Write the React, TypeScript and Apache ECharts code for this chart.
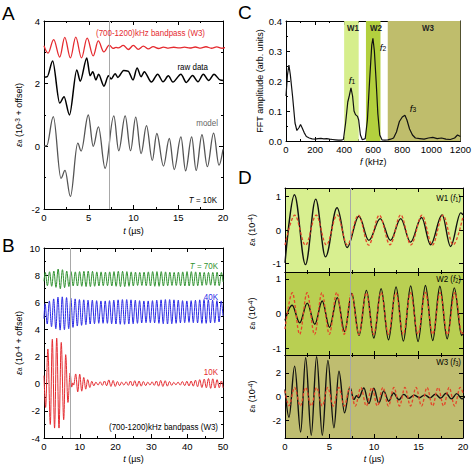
import React, { useEffect, useRef } from "react";
import * as echarts from "echarts";

const FONT = '"Liberation Sans", Arial, sans-serif';
const TICK_SIZE = 9.5;
const NAME_SIZE = 9;

type Pt = [number, number];

// ---------- Panel A: 10 K strain trace (units 1e-3, offset) ----------
const rawData: Pt[] = [
  [0, 2.2], [0.35, 2.22], [0.97, 2.72], [1.75, 1.38], [2.24, 1.58], [2.85, 1.0],
  [3.66, 2.44], [4.05, 2.08], [4.78, 2.82], [5.15, 2.25], [5.45, 2.38], [5.8, 2.12],
  [6.1, 2.3], [6.7, 1.92], [7.2, 2.25], [7.5, 2.15], [7.95, 2.32], [8.25, 2.2],
  [8.9, 2.42], [9.4, 2.4], [9.95, 2.12], [10.4, 2.5], [10.85, 2.22], [11.2, 2.38],
  [12.0, 2.05], [12.7, 2.3], [13.3, 2.06], [13.9, 2.25], [14.4, 2.05], [15.3, 2.3],
  [15.9, 2.04], [16.6, 2.26], [17.2, 2.06], [17.8, 2.3], [18.4, 2.1], [19.0, 2.3],
  [19.7, 2.12], [20, 2.1],
];
const modelFit: Pt[] = [
  [0, 0], [0.3, 0.02], [1.04, 0.95], [1.9, -1.02], [2.35, -0.77], [2.95, -1.6],
  [3.77, 0.1], [4.15, -0.15], [4.95, 1.0], [5.5, 0.0], [6.08, 0.62], [6.83, -0.7],
  [7.8, 0.97], [8.35, -0.14], [9.07, 0.97], [9.67, -0.14], [10.25, 0.93], [10.85, -0.23],
  [11.45, 0.66], [12.1, -0.45], [12.6, 0.41], [13.35, -0.63], [14.0, 0.25], [14.55, -0.74],
  [15.3, 0.3], [15.82, -0.78], [16.5, 0.3], [17.0, -0.77], [17.65, 0.37], [18.25, -0.65],
  [18.95, 0.42], [19.55, -0.6], [20, -0.1],
];
const bandOffsetA = 3.15;

// ---------- (700-1200) kHz bandpass, W3 (units 1e-4) ----------
const w3Band10K: Pt[] = [
  [0, 0.6], [0.45, -1.75], [1.08, 2.56], [1.76, -3.0], [2.32, 3.27], [2.95, -3.27],
  [3.55, 3.35], [4.19, -3.27], [4.82, 3.04], [5.5, -2.65], [6.06, 2.14], [6.69, -1.38],
  [7.29, 0.79], [7.74, -0.25], [8.04, 0.06], [8.3, -0.1], [8.86, 0.72], [9.42, -0.6],
  [9.98, 0.7], [10.54, -0.55], [11.1, 0.46], [11.66, -0.4], [12.2, 0.3], [12.8, -0.28],
  [13.35, 0.18], [13.9, -0.16], [14.5, 0.12], [15.1, -0.1], [15.7, 0.14], [16.3, -0.12],
  [16.9, 0.2], [17.5, -0.15], [18.1, 0.28], [18.7, -0.2], [19.3, 0.24], [19.9, -0.2],
  [20.5, 0.16], [21.1, -0.14], [21.7, 0.12], [22.3, -0.1], [22.95, 0.14], [23.55, -0.12],
  [24.15, 0.2], [24.75, -0.16], [25.35, 0.22], [25.95, -0.2], [26.55, 0.2], [27.15, -0.18],
  [27.75, 0.16], [28.4, -0.14], [29.0, 0.12], [29.6, -0.1], [30.2, 0.14], [30.8, -0.12],
  [31.4, 0.2], [32.0, -0.18], [32.6, 0.24], [33.2, -0.2], [33.85, 0.22], [34.45, -0.18],
  [35.05, 0.16], [35.65, -0.12], [36.25, 0.1], [36.85, -0.08], [37.45, 0.12], [38.05, -0.1],
  [38.65, 0.16], [39.3, -0.14], [39.9, 0.18], [40.5, -0.16], [41.1, 0.2], [41.7, -0.18],
  [42.3, 0.26], [42.9, -0.22], [43.5, 0.3], [44.1, -0.28], [44.75, 0.34], [45.35, -0.3],
  [45.95, 0.38], [46.55, -0.34], [47.15, 0.36], [47.75, -0.32], [48.35, 0.3], [48.95, -0.3],
  [49.55, 0.2], [50, -0.3],
];
const w3Band40K: Pt[] = [
  [0, 4.8], [0.3, 5.9], [0.9, 4.4], [1.5, 6.1], [2.1, 4.2], [2.7, 6.25], [3.3, 4.05],
  [3.9, 6.38], [4.5, 3.95], [5.1, 6.4], [5.7, 3.98], [6.3, 6.35], [6.9, 4.05], [7.5, 6.3],
  [8.1, 4.15], [8.7, 6.25], [9.3, 4.25], [9.9, 6.2], [10.5, 4.3], [11.1, 6.18], [11.7, 4.35],
  [12.3, 6.15], [12.9, 4.4], [13.5, 6.15], [14.1, 4.42], [14.7, 6.12], [15.3, 4.45],
  [15.9, 6.1], [16.5, 4.45], [17.1, 6.1], [17.7, 4.45], [18.3, 6.12], [18.9, 4.42],
  [19.5, 6.15], [20.1, 4.4], [20.7, 6.18], [21.3, 4.38], [21.9, 6.2], [22.5, 4.38],
  [23.1, 6.2], [23.7, 4.4], [24.3, 6.18], [24.9, 4.42], [25.5, 6.15], [26.1, 4.45],
  [26.7, 6.12], [27.3, 4.48], [27.9, 6.1], [28.5, 4.5], [29.1, 6.1], [29.7, 4.5],
  [30.3, 6.12], [30.9, 4.48], [31.5, 6.15], [32.1, 4.45], [32.7, 6.18], [33.3, 4.42],
  [33.9, 6.2], [34.5, 4.4], [35.1, 6.2], [35.7, 4.42], [36.3, 6.18], [36.9, 4.45],
  [37.5, 6.15], [38.1, 4.48], [38.7, 6.12], [39.3, 4.5], [39.9, 6.1], [40.5, 4.52],
  [41.1, 6.12], [41.7, 4.5], [42.3, 6.15], [42.9, 4.48], [43.5, 6.18], [44.1, 4.45],
  [44.7, 6.2], [45.3, 4.45], [45.9, 6.18], [46.5, 4.48], [47.1, 6.15], [47.7, 4.5],
  [48.3, 6.12], [48.9, 4.55], [49.5, 6.1], [50, 5.0],
];
const w3Band70K: Pt[] = [
  [0, 7.55], [0.35, 8.2], [0.95, 7.22], [1.55, 8.25], [2.15, 7.18], [2.75, 8.3], [3.35, 7.1],
  [3.95, 8.45], [4.55, 7.0], [5.15, 8.4], [5.75, 7.08], [6.35, 8.3], [6.95, 7.16], [7.55, 8.26],
  [8.15, 7.2], [8.75, 8.24], [9.35, 7.2], [9.95, 8.26], [10.55, 7.18], [11.15, 8.28],
  [11.75, 7.16], [12.35, 8.3], [12.95, 7.16], [13.55, 8.28], [14.15, 7.18], [14.75, 8.24],
  [15.35, 7.2], [15.95, 8.24], [16.55, 7.22], [17.15, 8.22], [17.75, 7.22], [18.35, 8.24],
  [18.95, 7.2], [19.55, 8.26], [20.15, 7.18], [20.75, 8.28], [21.35, 7.16], [21.95, 8.28],
  [22.55, 7.16], [23.15, 8.26], [23.75, 7.18], [24.35, 8.24], [24.95, 7.2], [25.55, 8.22],
  [26.15, 7.24], [26.75, 8.2], [27.35, 7.24], [27.95, 8.22], [28.55, 7.22], [29.15, 8.24],
  [29.75, 7.2], [30.35, 8.26], [30.95, 7.18], [31.55, 8.26], [32.15, 7.18], [32.75, 8.26],
  [33.35, 7.2], [33.95, 8.24], [34.55, 7.22], [35.15, 8.22], [35.75, 7.24], [36.35, 8.2],
  [36.95, 7.24], [37.55, 8.22], [38.15, 7.22], [38.75, 8.24], [39.35, 7.2], [39.95, 8.26],
  [40.55, 7.2], [41.15, 8.26], [41.75, 7.2], [42.35, 8.24], [42.95, 7.22], [43.55, 8.22],
  [44.15, 7.24], [44.75, 8.2], [45.35, 7.26], [45.95, 8.2], [46.55, 7.26], [47.15, 8.2],
  [47.75, 7.24], [48.35, 8.22], [48.95, 7.22], [49.55, 8.2], [50, 7.5],
];

// ---------- Panel C: FFT amplitude ----------
const fftFreq = [
  0, 10, 20, 30, 45, 62, 75, 90, 100, 110, 125, 140, 160, 180, 200, 220, 240, 260, 280, 300,
  320, 340, 360, 380, 395, 410, 425, 435, 447, 458, 468, 478, 492, 500, 512, 525, 545, 560,
  575, 590, 598, 608, 620, 632, 645, 660, 680, 700, 720, 740, 760, 780, 800, 818, 832, 850,
  870, 890, 920, 950, 980, 1010, 1040, 1070, 1100, 1130, 1160, 1180, 1200,
];
const fftAmp = [
  0.15, 0.22, 0.253, 0.22, 0.15, 0.06, 0.035, 0.045, 0.055, 0.045, 0.028, 0.015, 0.01, 0.007,
  0.006, 0.008, 0.009, 0.007, 0.008, 0.006, 0.005, 0.004, 0.003, 0.003, 0.005, 0.06, 0.13,
  0.15, 0.177, 0.15, 0.1, 0.088, 0.082, 0.07, 0.02, 0.004, 0.008, 0.07, 0.2, 0.32, 0.342,
  0.3, 0.2, 0.09, 0.02, 0.004, 0.003, 0.004, 0.006, 0.01, 0.03, 0.065, 0.08, 0.086, 0.07,
  0.04, 0.02, 0.01, 0.008, 0.006, 0.01, 0.012, 0.008, 0.01, 0.006, 0.005, 0.01, 0.02, 0.015,
];
const windowBands = [
  { name: "W1", from: 400, to: 500, color: "#d6ee8c" },
  { name: "W2", from: 550, to: 650, color: "#b3d03e" },
  { name: "W3", from: 700, to: 1200, color: "#bfbd6c" },
];

// ---------- Panel D: windowed signals (black) and single-frequency fits (dashed) ----------
const w1Signal: Pt[] = [
  [0, -0.98], [1.06, 1.05], [2.3, -1.03], [3.45, 0.92], [4.55, -0.8], [5.85, 0.66],
  [6.97, -0.52], [8.3, 0.41], [9.42, -0.31], [10.7, 0.34], [11.85, -0.31], [13.0, 0.34],
  [14.1, -0.36], [15.35, 0.37], [16.35, -0.44], [17.65, 0.45], [18.6, -0.49], [19.75, 0.51],
  [20, 0.45],
];
const w1Fit: Pt[] = [
  [0, -0.45], [1.1, 0.44], [2.3, -0.45], [3.5, 0.44], [4.65, -0.44], [5.85, 0.45],
  [7.0, -0.44], [8.25, 0.44], [9.4, -0.45], [10.6, 0.44], [11.8, -0.44], [13.0, 0.45],
  [14.15, -0.44], [15.4, 0.44], [16.55, -0.45], [17.75, 0.44], [18.9, -0.44], [20, 0.4],
];
const w2Signal: Pt[] = [
  [0, -0.2], [0.8, 0.24], [1.65, -0.27], [2.5, 0.3], [3.35, -0.31], [4.18, 0.36], [5.0, -0.4],
  [5.87, 0.46], [6.7, -0.52], [7.5, 0.58], [8.32, -0.63], [9.15, 0.67], [9.98, -0.71],
  [10.8, 0.72], [11.63, -0.76], [12.48, 0.77], [13.3, -0.8], [14.12, 0.8], [14.95, -0.81],
  [15.78, 0.81], [16.6, -0.78], [17.4, 0.79], [18.22, -0.73], [19.02, 0.74], [19.85, -0.64],
  [20, -0.55],
];
const w2Fit: Pt[] = [
  [0, -0.45], [0.82, 0.6], [1.65, -0.6], [2.48, 0.6], [3.32, -0.61], [4.15, 0.6], [4.98, -0.6],
  [5.82, 0.61], [6.65, -0.6], [7.48, 0.6], [8.3, -0.61], [9.13, 0.6], [9.96, -0.6],
  [10.8, 0.61], [11.62, -0.6], [12.46, 0.6], [13.28, -0.61], [14.1, 0.6], [14.94, -0.6],
  [15.77, 0.61], [16.6, -0.6], [17.42, 0.6], [18.25, -0.61], [19.08, 0.6], [19.9, -0.6],
  [20, -0.55],
];
const w3Fit: Pt[] = [
  [0, 0.5], [0.45, -0.78], [1.08, 0.76], [1.72, -0.8], [2.32, 0.76], [2.95, -0.8], [3.55, 0.76],
  [4.18, -0.8], [4.8, 0.76], [5.42, -0.8], [6.04, 0.76], [6.66, -0.8], [7.28, 0.76],
  [7.9, -0.8], [8.52, 0.76], [9.14, -0.8], [9.76, 0.76], [10.38, -0.8], [11.0, 0.76],
  [11.62, -0.8], [12.24, 0.76], [12.86, -0.8], [13.48, 0.76], [14.1, -0.8], [14.72, 0.76],
  [15.34, -0.8], [15.96, 0.76], [16.58, -0.8], [17.2, 0.76], [17.82, -0.8], [18.44, 0.76],
  [19.06, -0.8], [19.68, 0.76], [20, 0.3],
];

const gateTime = 7.3;

// ---------- layout helpers ----------
const axisName = (gap: number) => ({
  nameLocation: "middle",
  nameGap: gap,
  nameTextStyle: {
    color: "#000",
    fontFamily: FONT,
    fontSize: NAME_SIZE,
    rich: {
      i: { fontStyle: "italic", fontFamily: FONT, fontSize: NAME_SIZE, color: "#000" },
      s: { fontFamily: FONT, fontSize: 6.5, color: "#000", verticalAlign: "bottom" },
      p: { fontFamily: FONT, fontSize: 6.5, color: "#000", verticalAlign: "top" },
    },
  },
});

const lineCommon = {
  axisLine: { show: true, onZero: false, lineStyle: { color: "#000", width: 1 } },
  axisTick: { show: true, inside: true, length: 4, lineStyle: { color: "#000", width: 1 } },
  splitLine: { show: false },
  minorSplitLine: { show: false },
};

function xAxes(grid: number, min: number, max: number, interval: number, labels: boolean, name?: string, gap = 16) {
  const base: any = {
    type: "value", gridIndex: grid, min, max, interval, ...lineCommon,
    minorTick: { show: true, splitNumber: 2, length: 2, lineStyle: { color: "#000", width: 1 } },
  };
  return [
    {
      ...base, position: "bottom",
      axisLabel: { show: labels, color: "#000", fontFamily: FONT, fontSize: TICK_SIZE, margin: 3, formatter: (v: number) => String(v) },
      ...(name ? { name, ...axisName(gap) } : {}),
    },
    { ...base, position: "top", axisLabel: { show: false } },
  ];
}

function yAxes(grid: number, min: number, max: number, opt: { interval?: number; labels?: number[]; name: string; gap: number; fmt?: (v: number) => string }) {
  const base: any = { type: "value", gridIndex: grid, min, max, ...lineCommon };
  if (opt.interval !== undefined) {
    base.interval = opt.interval;
    base.minorTick = { show: true, splitNumber: 2, length: 2, lineStyle: { color: "#000", width: 1 } };
  } else {
    base.axisTick = { ...lineCommon.axisTick, customValues: opt.labels };
  }
  const label: any = { color: "#000", fontFamily: FONT, fontSize: TICK_SIZE, margin: 4 };
  if (opt.fmt) label.formatter = opt.fmt;
  if (opt.labels) label.customValues = opt.labels;
  return [
    { ...base, position: "left", axisLabel: label, name: opt.name, ...axisName(opt.gap) },
    { ...base, position: "right", axisLabel: { show: false } },
  ];
}

function wave(axis: number, data: Pt[], color: string, width: number, extra: any = {}) {
  return {
    type: "line", xAxisIndex: axis, yAxisIndex: axis, data,
    symbol: "none", showSymbol: false, smooth: 0.36, smoothMonotone: "x",
    lineStyle: { color, width }, silent: true, animation: false, ...extra,
  };
}

const gateLine = {
  silent: true, symbol: ["none", "none"], label: { show: false },
  lineStyle: { color: "#a8a8a8", width: 1, type: "solid" },
  data: [{ xAxis: gateTime }],
};

// annotation text, drawn slightly condensed
function label(x: number, y: number, text: string, fill: string, opts: any = {}) {
  const size = opts.fontSize ?? 9.5;
  const weight = opts.fontWeight ?? "normal";
  return {
    type: "text", x, y, silent: true, z: 100,
    scaleX: opts.scaleX ?? 0.84,
    style: {
      text, fill, fontFamily: FONT, fontSize: size, fontWeight: weight,
      align: opts.align ?? "right", verticalAlign: "middle",
      rich: {
        i: { fontStyle: "italic", fill, fontFamily: FONT, fontSize: size, fontWeight: weight },
        s: { fill, fontFamily: FONT, fontSize: size * 0.7, fontWeight: weight, verticalAlign: "bottom" },
      },
    },
  };
}

export default function App() {
  const ref = useRef<HTMLDivElement>(null);

  useEffect(() => {
    document.body.style.margin = "0";
    if (!ref.current) return;
    const chart = echarts.init(ref.current, undefined, { renderer: "svg" });

    const grids = [
      { left: 44, top: 21, width: 179, height: 188 }, // A
      { left: 44, top: 248, width: 179, height: 190 }, // B
      { left: 286, top: 21, width: 178, height: 120 }, // C
      { left: 285, top: 188, width: 178, height: 84, show: true, backgroundColor: "#d8ef90", borderWidth: 0 }, // D W1
      { left: 285, top: 272, width: 178, height: 83, show: true, backgroundColor: "#b9cf52", borderWidth: 0 }, // D W2
      { left: 285, top: 355, width: 178, height: 83, show: true, backgroundColor: "#bfbd70", borderWidth: 0 }, // D W3
    ];

    const tName = "{i|t} (µs)";
    const eps3 = "{i|ε}{s|a} (10{p|-3} + offset)";
    const eps4off = "{i|ε}{s|a} (10{p|-4} + offset)";
    const eps4 = "{i|ε}{s|a} (10{p|-4})";

    const xAxis = [
      ...xAxes(0, 0, 20, 5, true, tName, 17),
      ...xAxes(1, 0, 50, 10, true, tName, 16),
      ...xAxes(2, 0, 1200, 200, true, "{i|f} (kHz)", 16),
      ...xAxes(3, 0, 20, 5, false),
      ...xAxes(4, 0, 20, 5, false),
      ...xAxes(5, 0, 20, 5, true, tName, 16),
    ];
    const yAxis = [
      ...yAxes(0, -2, 4, { interval: 2, name: eps3, gap: 21 }),
      ...yAxes(1, -4, 10, { interval: 2, name: eps4off, gap: 21 }),
      ...yAxes(2, 0, 0.4, { interval: 0.1, name: "FFT amplitude (arb. units)", gap: 19, fmt: (v) => v.toFixed(1) }),
      ...yAxes(3, -1.25, 1.25, { labels: [-1, 0, 1], name: eps4, gap: 29 }),
      ...yAxes(4, -1.2, 1.2, { labels: [-1, 0, 1], name: eps4, gap: 29 }),
      ...yAxes(5, -3.5, 3.5, { labels: [-2, 0, 2], name: eps4, gap: 29 }),
    ];

    const fftData: Pt[] = fftFreq.map((f, i) => [f, fftAmp[i]]);

    const series: any[] = [
      // A
      wave(0, w3Band10K.map(([t, v]) => [t, bandOffsetA + v / 10] as Pt), "#e52a2f", 1.3, { markLine: gateLine }),
      wave(0, rawData, "#000", 1.5, { smooth: 0.3 }),
      wave(0, modelFit, "#555", 1.3),
      // B
      wave(2, w3Band70K, "#2f922f", 1, { markLine: gateLine }),
      wave(2, w3Band40K, "#2a2ae6", 1),
      wave(2, w3Band10K, "#e52a2f", 1),
      // C
      {
        type: "line", xAxisIndex: 4, yAxisIndex: 4, data: fftData, symbol: "none", showSymbol: false,
        lineStyle: { color: "#111", width: 1.2 }, silent: true,
        markArea: {
          silent: true,
          data: windowBands.map((b) => [
            { xAxis: b.from, itemStyle: { color: b.color } },
            { xAxis: b.to },
          ]),
        },
      },
      // D
      wave(6, w1Signal, "#111", 1.4, { markLine: gateLine }),
      wave(6, w1Fit, "#e4462a", 1.3, { lineStyle: { color: "#e4462a", width: 1.3, type: [3, 2] } }),
      wave(8, w2Signal, "#111", 1.4, { markLine: gateLine }),
      wave(8, w2Fit, "#e4462a", 1.3, { lineStyle: { color: "#e4462a", width: 1.3, type: [3, 2] } }),
      wave(10, w3Band10K, "#111", 1.4, { markLine: gateLine }),
      wave(10, w3Fit, "#e4462a", 1.3, { lineStyle: { color: "#e4462a", width: 1.3, type: [3, 2] } }),
    ];

    const letter = { fontSize: 19, align: "left", scaleX: 1 };
    const graphic = [
      label(2, 13, "A", "#000", letter),
      label(2, 245, "B", "#000", letter),
      label(238, 12, "C", "#000", letter),
      label(238, 177, "D", "#000", letter),
      // A annotations
      label(205, 33, "(700-1200)kHz bandpass (W3)", "#e52a2f"),
      label(208, 67, "raw data", "#000"),
      label(218, 123, "model", "#666"),
      label(217, 200, "{i|T} = 10K", "#000"),
      // B annotations
      label(218, 266, "{i|T} = 70K", "#2f922f"),
      label(218, 297, "40K", "#2a2ae6"),
      label(218, 372, "10K", "#e52a2f"),
      label(218, 427, "(700-1200)kHz bandpass (W3)", "#000"),
      // C annotations
      label(353, 28, "W1", "#222", { align: "center", fontWeight: "bold" }),
      label(376, 28, "W2", "#222", { align: "center", fontWeight: "bold" }),
      label(428, 28, "W3", "#222", { align: "center", fontWeight: "bold" }),
      label(352, 80, "{i|f}{s|1}", "#000", { align: "center", scaleX: 1 }),
      label(383, 47, "{i|f}{s|2}", "#000", { align: "center", scaleX: 1 }),
      label(413, 108, "{i|f}{s|3}", "#000", { align: "center", scaleX: 1 }),
      // D annotations
      label(461, 198, "W1 ({i|f}{s|1})", "#000"),
      label(461, 279, "W2 ({i|f}{s|2})", "#000"),
      label(461, 362, "W3 ({i|f}{s|3})", "#000"),
    ];

    chart.setOption({
      animation: false,
      backgroundColor: "#fff",
      textStyle: { fontFamily: FONT },
      grid: grids,
      xAxis,
      yAxis,
      series,
      graphic,
    });

    return () => chart.dispose();
  }, []);

  return <div ref={ref} style={{ width: 474, height: 467 }} />;
}
